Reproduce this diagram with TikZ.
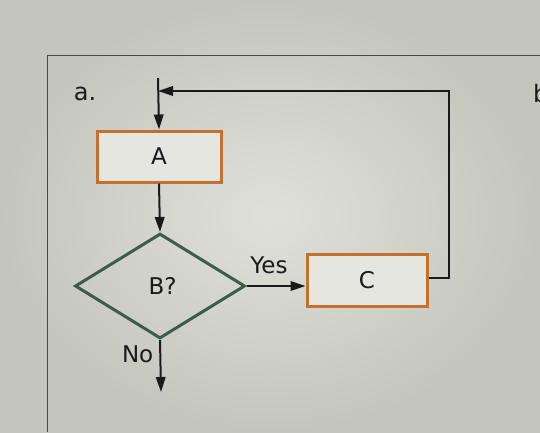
\documentclass[tikz,border=0pt]{standalone}
\usepackage{fontspec}
\setmainfont{DejaVu Sans}
\usetikzlibrary{arrows.meta,shapes.geometric}
\definecolor{paper}{HTML}{DADBD3}
\definecolor{paperdark}{HTML}{C4C6BC}
\definecolor{boxorange}{HTML}{C4702E}
\definecolor{dgreen}{HTML}{3E5B47}
\definecolor{ink}{HTML}{1A1A1A}
\tikzset{
  procbox/.style={draw=boxorange, line width=3pt, fill=paper!70!white, minimum width=124pt, minimum height=51pt, inner sep=0pt, font=\fontsize{23}{26}\selectfont, text=ink},
  decbox/.style={diamond, aspect=1.62, draw=dgreen, line width=3pt, minimum width=170pt, minimum height=105pt, inner sep=0pt, font=\fontsize{23}{26}\selectfont, text=ink},
  conn/.style={draw=ink, line width=2pt},
  arr/.style={conn, -{Triangle[length=15pt,width=9.5pt]}},
  lbl/.style={font=\fontsize{23}{26}\selectfont, text=ink, inner sep=0pt},
}
\begin{document}
\begin{tikzpicture}[x=1pt,y=-1pt]
\useasboundingbox (0,0) rectangle (540,432);
\shade[inner color=paper!85!white, outer color=paperdark] (0,0) rectangle (540,432);
\draw[ink!80, line width=1pt] (47,432) -- (47,55) -- (540,55);
\node[lbl, font=\fontsize{24}{26}\selectfont] (la) at (85,94) {a.};
\begin{scope}
\clip (0,0) rectangle (540,432);
\node[lbl, anchor=west, font=\fontsize{24}{26}\selectfont] (lb) at (533,94) {b};
\end{scope}
\coordinate (start) at (158,78);
\node[procbox] (A) at (159,156.5) {A};
\node[decbox] (B) at (160,286) {\hspace*{5pt}B?};
\node[procbox, minimum width=120pt, minimum height=52pt] (C) at (367,280.5) {C};
\coordinate (join) at (158,91);
\coordinate (tr) at (449,91);
\coordinate (cr) at (449,278);
\coordinate (endp) at (161,392);
\draw[arr] (start) -- (A.north);
\draw[arr] (A.south) -- (B.north);
\draw[arr] (B.east) -- node[lbl, above=11pt, xshift=-7pt] (yes) {Yes} (B.east -| C.west);
\draw[arr] (C.east |- cr) -- (cr) -- (tr) -- (join);
\draw[arr] (B.south) -- node[lbl, pos=0.28, left=6pt] (no) {No} (endp);
\end{tikzpicture}
\end{document}
